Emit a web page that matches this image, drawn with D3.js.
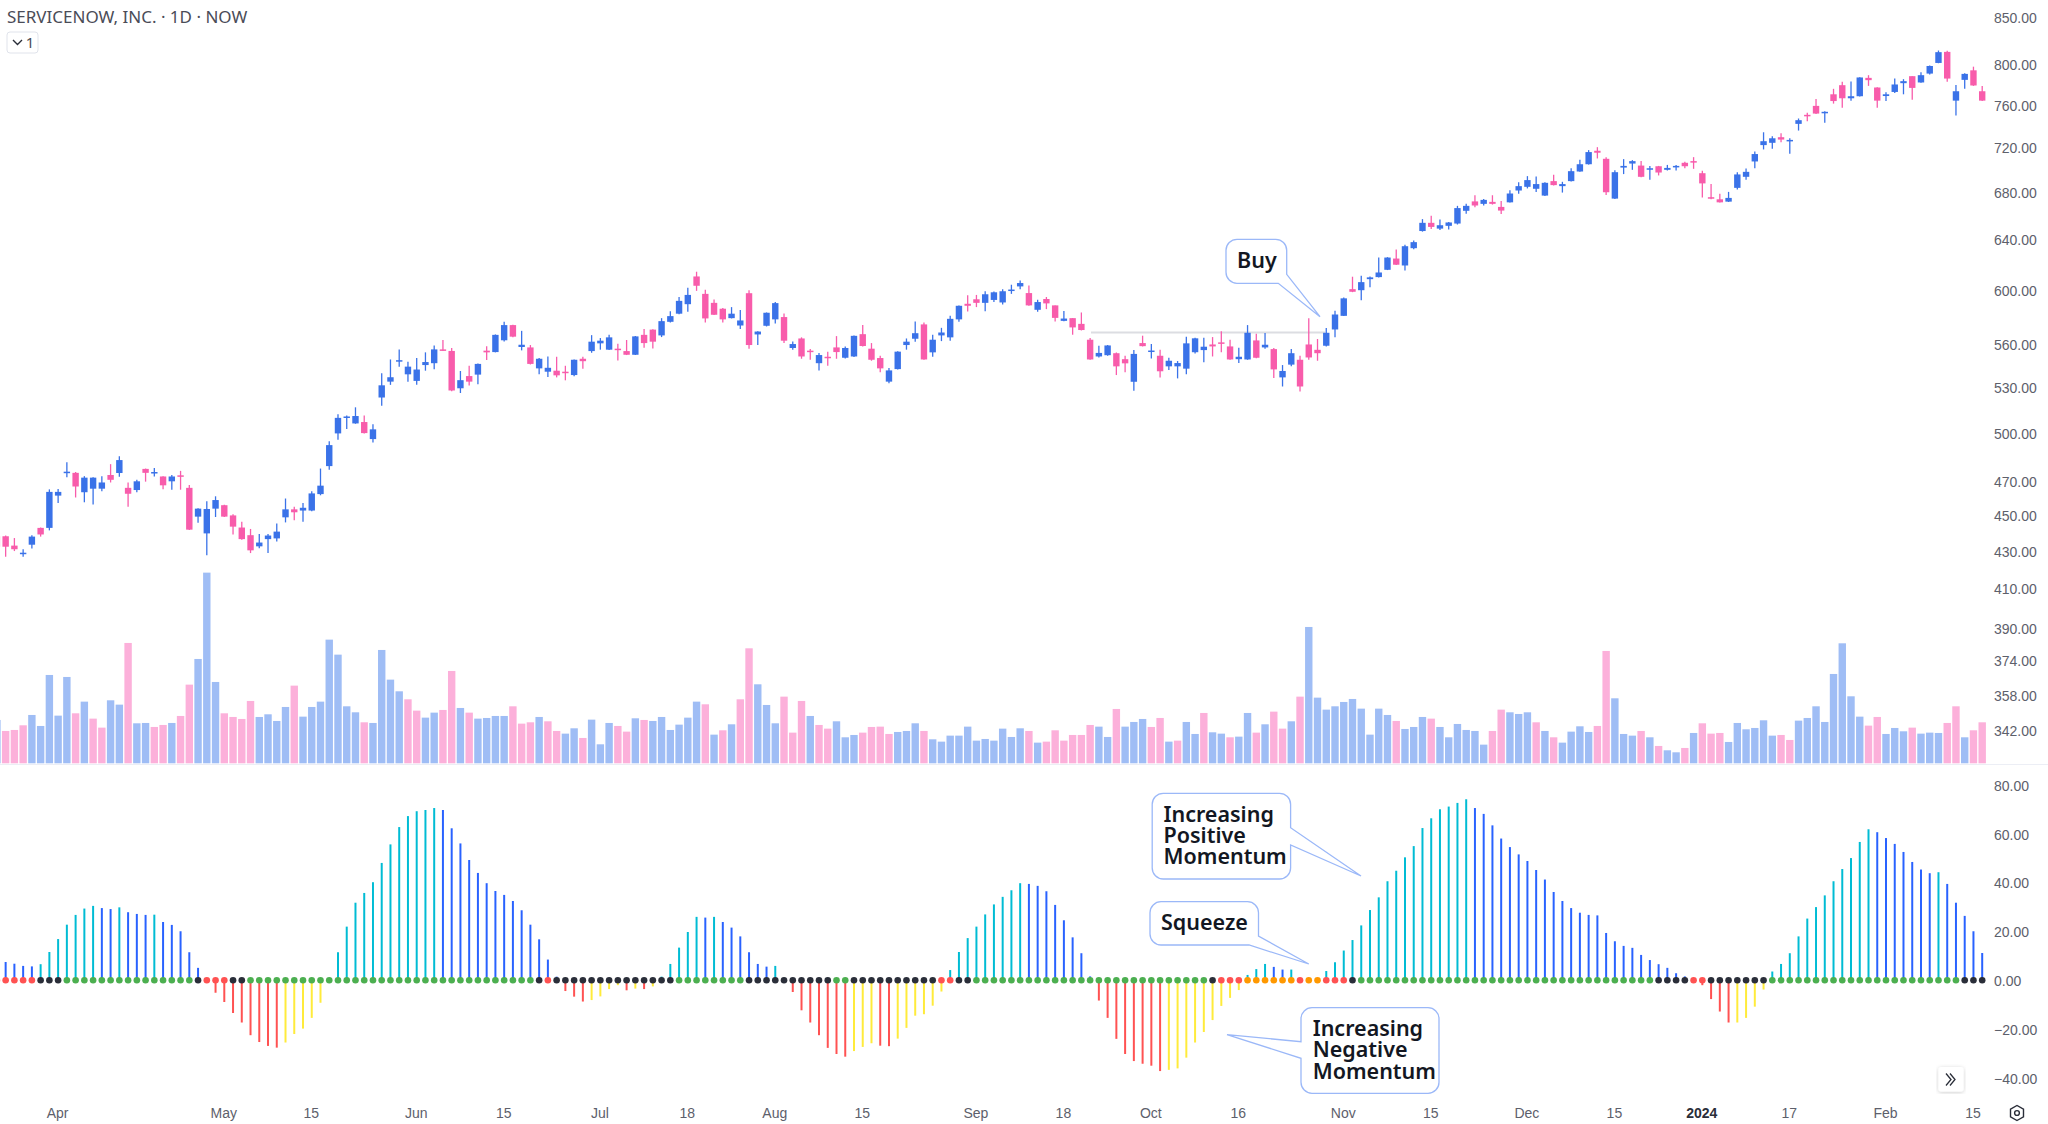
<!DOCTYPE html>
<html>
<head>
<meta charset="utf-8">
<title>ServiceNow squeeze momentum</title>
<script src="https://cdn.jsdelivr.net/npm/d3@7"></script>
<style>
html, body { margin: 0; padding: 0; background: #fff; }
svg { display: block; font-family: "Noto Sans", sans-serif; }
.axis text { fill: #5d606b; font-size: 14px; }
.axis path { display: none; }
.note text { fill: #131722; font-size: 21.5px; font-weight: 600; }
</style>
</head>
<body>
<svg id="chart" width="2048" height="1124"></svg>
<script>
// daily OHLC
let opens = [438.0,438.0,432.8,428.5,433.3,442.7,442.7,461.3,475.0,474.9,
463.3,465.4,465.4,473.6,474.8,465.9,464.6,477.3,474.8,472.7,
469.8,473.4,465.9,449.1,439.6,453.7,455.7,449.8,442.9,438.6,
432.4,436.4,436.8,448.7,453.3,452.6,452.6,462.2,479.0,499.4,
509.8,505.8,506.7,495.8,522.8,533.5,547.5,538.5,534.0,544.9,
546.2,555.9,554.8,529.0,537.3,538.3,555.0,554.0,562.4,573.4,
557.6,557.3,542.6,540.3,541.0,540.3,538.0,549.3,554.7,560.2,
555.7,556.4,554.7,552.1,566.3,570.1,565.9,575.8,581.8,588.9,
610.1,596.7,589.9,585.5,578.5,573.1,597.2,566.6,572.9,577.6,
579.3,556.9,563.7,555.0,546.2,550.7,557.3,550.0,550.9,566.8,
556.4,549.8,533.5,542.1,559.0,563.5,573.9,553.8,565.9,564.5,
577.6,589.2,592.6,589.9,592.1,590.2,599.5,602.4,597.3,584.7,
592.8,588.0,576.5,578.5,574.3,562.8,550.9,551.8,553.2,549.0,
533.4,560.4,554.4,551.4,544.0,544.0,542.4,553.9,555.4,559.4,
560.9,558.0,549.0,548.8,562.3,557.3,556.1,536.4,545.2,548.6,
559.4,555.6,558.5,570.2,580.2,600.3,599.5,608.0,609.6,615.3,
624.2,618.7,632.5,646.5,653.3,648.5,650.8,652.7,663.4,671.4,
669.3,671.0,666.7,670.6,680.8,684.0,682.3,676.4,689.0,684.6,
689.0,697.5,704.0,716.2,708.9,673.8,701.0,704.6,702.8,699.6,
702.2,699.0,701.3,705.3,706.8,696.0,675.0,673.2,671.2,683.1,
692.8,706.5,721.4,723.5,728.7,725.0,741.2,749.8,758.4,751.7,
769.7,778.7,765.8,767.8,786.0,776.4,768.0,772.0,780.7,787.7,
781.4,790.3,801.1,812.5,763.5,784.0,793.6,772.7];
let highs = [440.1,438.4,437.0,430.8,438.6,442.9,465.0,465.2,481.4,475.4,
472.9,472.2,472.9,480.2,485.0,469.1,470.7,477.5,477.9,472.9,
473.6,476.1,467.6,453.9,458.0,460.9,455.9,450.5,446.2,442.1,
439.2,439.2,445.2,459.6,454.8,457.0,463.9,477.5,494.4,511.7,
511.0,516.3,511.0,505.3,539.2,548.8,555.9,547.2,549.9,553.8,
558.7,562.6,556.9,540.8,544.4,545.9,558.2,566.6,575.9,573.7,
569.2,559.0,549.8,550.9,550.7,544.4,548.8,550.7,566.1,564.0,
566.3,559.9,562.6,565.4,570.6,570.4,578.5,583.7,594.4,601.3,
613.8,599.8,592.4,586.0,586.7,584.5,599.5,568.9,582.7,590.6,
582.0,561.6,564.5,556.2,553.3,554.3,565.4,558.0,565.9,573.4,
560.4,551.4,542.8,554.5,563.7,576.0,575.3,566.3,571.4,580.3,
587.9,595.6,595.9,598.7,598.5,600.3,603.7,607.0,603.1,592.3,
594.3,588.0,583.8,578.5,582.7,564.0,558.5,559.0,553.7,551.4,
555.4,565.7,559.7,555.6,550.0,547.7,565.0,564.2,564.2,564.7,
569.0,562.8,557.0,573.4,567.1,567.6,556.8,544.9,556.1,551.4,
578.5,563.3,571.2,584.0,594.0,609.9,610.7,610.1,625.0,625.3,
631.4,635.2,638.8,656.4,659.2,656.1,653.9,667.6,669.3,676.7,
673.5,676.7,671.8,681.1,688.1,693.4,693.1,688.1,694.6,688.4,
700.4,708.0,716.8,719.5,710.4,698.7,708.6,707.7,706.8,702.5,
702.5,703.4,703.4,706.2,710.4,698.1,686.4,677.9,679.6,696.9,
700.1,715.6,733.3,729.6,732.3,727.7,746.3,751.7,765.1,753.3,
775.1,782.0,782.4,786.7,788.7,776.7,771.7,785.3,784.7,787.7,
791.7,798.6,813.9,813.6,779.0,790.7,797.3,778.0];
let lows = [429.8,426.7,429.8,426.7,431.2,437.8,441.3,457.0,472.2,460.2,
457.4,456.1,463.9,469.1,472.5,454.8,463.3,469.6,472.7,465.0,
464.8,464.8,441.5,445.6,427.5,448.9,448.9,439.0,436.1,428.7,
431.4,428.7,435.1,445.8,447.1,446.2,452.2,461.5,476.8,495.3,
502.2,505.6,499.4,493.6,517.3,531.3,543.8,533.5,531.3,541.0,
542.0,555.0,527.0,525.8,530.8,531.8,548.5,553.8,561.6,564.5,
555.2,545.3,538.5,536.7,536.4,534.4,537.1,542.3,553.5,555.7,
555.4,548.1,551.9,551.9,557.1,556.6,564.7,575.3,581.3,583.2,
599.0,575.3,580.8,575.3,578.3,570.6,556.4,559.0,572.4,574.6,
560.4,555.7,549.3,548.6,541.2,544.4,549.3,549.5,550.5,558.0,
547.9,540.0,532.4,541.9,555.7,561.4,548.6,550.7,561.8,562.1,
575.8,583.5,586.7,583.7,590.6,588.7,596.7,600.3,587.7,583.2,
585.2,576.0,576.2,566.4,569.5,548.6,550.2,551.4,538.0,539.9,
527.4,558.0,549.5,536.4,541.5,535.7,538.5,553.0,546.8,550.9,
553.9,548.6,546.3,548.6,549.7,556.3,535.9,530.2,544.0,526.8,
548.6,547.9,558.0,564.5,580.0,598.0,591.8,601.8,609.3,615.1,
619.0,614.8,631.7,646.0,648.2,647.4,647.7,651.9,660.9,666.5,
667.9,668.7,660.8,670.4,677.9,682.6,679.6,676.1,685.2,679.0,
688.7,697.2,703.7,709.2,676.9,673.5,695.2,699.0,692.5,690.2,
694.0,698.4,698.4,700.4,699.9,674.7,673.2,670.4,670.9,681.7,
690.2,700.4,717.4,718.0,724.1,713.4,734.9,743.7,750.7,742.2,
760.6,756.5,763.5,767.5,778.0,756.5,763.1,771.0,769.7,764.4,
781.0,789.3,800.8,782.0,749.2,775.1,778.0,763.1];
let closes = [432.2,432.2,430.8,428.9,437.8,439.0,463.5,463.5,475.6,466.7,
472.0,472.0,469.1,470.7,482.7,462.4,469.8,474.9,475.4,467.4,
472.7,472.5,441.7,453.7,453.5,458.7,449.1,443.4,436.4,430.2,
434.5,438.4,440.6,453.3,451.6,454.2,462.6,467.2,492.0,509.4,
510.3,510.6,499.6,502.0,531.0,536.5,548.3,543.8,541.8,547.0,
555.9,555.3,527.5,534.5,533.5,545.7,553.8,566.3,573.4,565.0,
559.2,545.7,549.3,543.0,537.8,539.4,548.6,547.6,561.4,562.1,
564.5,555.4,552.1,565.2,560.4,561.4,576.3,580.0,591.4,595.9,
602.9,578.3,581.0,577.6,581.8,576.8,559.0,568.7,582.5,589.7,
562.1,559.7,550.9,554.5,551.9,549.8,554.0,556.9,565.6,558.3,
548.6,542.6,541.2,554.3,561.4,567.5,548.8,562.8,568.0,578.0,
587.7,587.7,589.9,596.4,597.9,598.7,600.0,605.0,588.0,590.5,
589.5,578.7,578.2,571.7,569.8,548.8,553.4,558.7,544.0,546.1,
552.7,558.2,555.1,540.6,547.9,546.3,560.2,563.8,557.8,558.0,
560.2,548.8,550.7,567.8,550.0,559.2,541.9,540.8,553.2,530.2,
550.2,553.2,567.8,581.2,593.3,598.3,605.7,609.4,613.2,625.0,
619.3,634.1,637.4,653.3,649.9,651.3,653.6,665.7,667.6,667.9,
672.7,669.3,663.6,678.2,684.6,689.9,686.4,687.5,685.5,686.4,
697.8,704.0,715.0,714.4,679.3,696.9,702.5,706.8,692.8,700.4,
696.6,700.7,702.5,702.2,705.9,687.0,674.1,670.6,674.4,694.9,
697.2,713.2,725.0,727.7,726.5,726.2,744.7,748.8,751.0,752.7,
763.1,765.8,767.8,786.4,783.7,763.5,769.7,779.4,782.7,776.0,
788.7,798.0,812.2,785.3,772.7,790.0,778.4,763.5];

// volume in relative units, no scale on the chart
let volumes = [130,97,100,114,145,112,265,143,259,150,185,134,107,189,176,361,120,121,109,115,
121,142,236,313,572,244,150,139,133,187,139,147,127,169,233,140,169,185,371,326,
171,153,123,121,340,251,216,192,158,137,152,160,277,166,152,134,136,142,142,171,
119,123,139,126,97,89,105,76,131,57,121,112,95,135,130,127,139,100,116,
137,185,177,86,99,117,192,345,237,175,120,200,92,187,142,115,104,126,78,85,
92,109,110,88,94,97,120,97,72,65,83,83,110,68,73,68,104,79,105,97,
62,65,99,68,85,85,115,110,79,163,110,124,133,109,136,65,68,124,88,151,
93,89,78,80,151,92,117,155,104,126,200,409,197,161,171,184,193,164,
86,164,145,127,103,109,139,134,109,78,118,100,97,56,97,161,153,148,153,123,
97,78,62,95,111,94,112,337,195,88,83,97,78,52,39,33,46,91,120,89,
91,64,121,102,106,129,83,85,70,128,136,171,124,268,360,201,140,113,139,88,
106,96,107,89,92,91,121,171,78,99,123];
let volumeDownBars = [1,2,3,9,11,12,15,18,19,21,22,26,27,28,29,34,42,47,48,51,52,54,59,60,61,63,64,67,71,72,74,
81,83,85,86,90,91,92,94,95,99,100,101,102,106,118,120,121,122,123,124,125,128,132,133,135,138,141,144,146,147,149,
160,164,171,172,176,178,183,184,188,190,193,195,196,197,204,205,214,215,219,223,224,226,227];

// squeeze momentum histogram
let momentum = [8,7.5,6.8,5.9,5.7,6.6,11.6,16.9,22.8,26.8,29.4,30.5,29.6,29.2,29.9,27.9,27.2,26.8,26.9,23.9,
22.7,20.1,11.5,5.1,-0.2,-5.1,-8.9,-13.4,-17.3,-22.5,-25.3,-26.9,-27.6,-25.5,-22,-19.8,-15.4,-9.2,0.4,11.5,
22,31.8,35.8,40.2,48.1,55.7,62.8,67.3,69.3,69.8,70.6,69.8,62.3,56.1,49.3,44,39.8,36.6,35,32.5,
28.7,22.8,16.8,8.5,1.5,-4.4,-6.7,-8.7,-8.1,-6.6,-3.6,-2,-4.1,-3.4,-3.6,-2.5,1.5,6.7,13.4,19.8,
26,25.7,26,23.9,21.6,18,11.5,6.7,5.6,5.9,0.3,-4.8,-12.3,-17.3,-22.5,-27.7,-30.2,-31.3,-29,-27.3,
-25.8,-26.8,-27,-23.9,-19.5,-14.5,-13.9,-10.4,-4.6,4.2,11.6,17.3,22,27,31.1,34.2,36.9,39.8,39.5,38.7,
36.5,30.9,24.6,17.6,11.1,1.6,-8.3,-15.4,-24,-30.2,-33.1,-34.2,-35,-37.2,-36.7,-36.1,-31.7,-25.5,-21.2,-16.3,
-10.5,-7.2,-4,2.2,4.6,6.7,5.5,4.4,4.4,0.2,0.2,0.2,3.8,7.4,12.2,16.5,22.5,28.8,34,40.6,
44.9,50.4,55,62.4,66.4,70.1,71.2,72.7,74.2,70.6,68.2,63.5,58.1,54.6,51.6,48.9,45.2,41.3,36.2,32.5,
29.6,27.7,26.8,26.6,19.4,16,14.1,13.3,10.4,8.3,6.6,5.1,2.9,1.6,0.2,-2,-7.7,-12.8,-17.3,-17.3,
-15.4,-10.8,-3.8,3.6,6.7,11.1,18,25.3,30,34.8,40.6,45.6,50.1,56.7,61.9,60.7,58.3,55.9,52.6,48.5,
45.4,43.9,44.3,39.5,31.8,26.4,20.1,11.2];
// squeeze state dots as [state, number of bars]
let squeezeRuns = [["r",5],["k",3],["g",15],["k",1],["r",3],["k",2],["g",33],["k",1],["r",1],["k",14],
["g",8],["k",10],["g",2],["k",10],["r",2],["k",2],["g",27],["k",1],["r",3],["o",6],["r",1],["o",2],
["r",3],["k",1],["g",34],["k",4],["r",2],["k",7],["g",22],["k",3]];

let priceTicks = [850,800,760,720,680,640,600,560,530,500,470,450,430,410,390,374,358,342];
let momentumTicks = [80,60,40,20,0,-20,-40];
let timeTickBars = [7,26,36,48,58,69,79,89,99,112,122,132,142,154,164,175,185,195,205,216,226];
let timeTickLabels = ["Apr","May","15","Jun","15","Jul","18","Aug","15","Sep","18","Oct","16","Nov","15","Dec","15","2024","17","Feb","15"];
let pivotPrice = 568;

let stateColor = {"r": "#ff5252", "k": "#2a2e39", "g": "#4caf50", "o": "#ff9800"};
let upColor = "#3a72e8", downColor = "#f85cab";

let squeeze = squeezeRuns.flatMap(d => d3.range(d[1]).map(() => d[0]));
let bars = d3.range(opens.length);

let svg = d3.select("#chart");

let x = d3.scaleLinear().domain([0, 227]).range([-3.1, 1982.2]);
let yPrice = d3.scaleLog().domain([850, 342]).range([16.5, 730.2]);
let yVolume = d3.scaleLinear().domain([0, 600]).range([763.3, 563.3]);
let yMomentum = d3.scaleLinear().domain([80, -40]).range([785.1, 1077.9]);

// volume
svg.append("line")
    .attr("x1", 0).attr("x2", 2048)
    .attr("y1", 764.5).attr("y2", 764.5)
    .attr("stroke", "#eceef5");
svg.append("g").selectAll("rect").data(bars).join("rect")
    .attr("x", d => x(d) - 3.7)
    .attr("width", 7.4)
    .attr("y", d => yVolume(volumes[d]))
    .attr("height", d => yVolume(0) - yVolume(volumes[d]))
    .attr("fill", d => volumeDownBars.includes(d) ? "#fcb0da" : "#9fbdf5");

// resistance line behind the candles
svg.append("line")
    .attr("x1", 1091).attr("x2", 1325)
    .attr("y1", yPrice(pivotPrice)).attr("y2", yPrice(pivotPrice))
    .attr("stroke", "#dcdde2").attr("stroke-width", 2);

// candles
let candleColor = d => closes[d] >= opens[d] ? upColor : downColor;
let candles = svg.append("g");
candles.selectAll("line").data(bars).join("line")
    .attr("x1", d => x(d)).attr("x2", d => x(d))
    .attr("y1", d => yPrice(highs[d])).attr("y2", d => yPrice(lows[d]))
    .attr("stroke", candleColor).attr("stroke-width", 1.3);
candles.selectAll("rect").data(bars).join("rect")
    .attr("x", d => x(d) - 3.2)
    .attr("width", 6.4)
    .attr("y", d => yPrice(Math.max(opens[d], closes[d])))
    .attr("height", d => Math.max(1.5, yPrice(Math.min(opens[d], closes[d])) - yPrice(Math.max(opens[d], closes[d]))))
    .attr("fill", candleColor);

// momentum histogram, colour from the bar to bar change
function momentumColor(d) {
    let v = momentum[d], prev = d > 0 ? momentum[d - 1] : v + 1;
    if (v >= 0) return v >= prev ? "#00bcd4" : "#2962ff";
    return v < prev ? "#ff5252" : "#ffeb3b";
}
svg.append("g").selectAll("line").data(bars).join("line")
    .attr("x1", d => x(d)).attr("x2", d => x(d))
    .attr("y1", yMomentum(0))
    .attr("y2", d => yMomentum(momentum[d]))
    .attr("stroke", momentumColor).attr("stroke-width", 2);
svg.append("g").selectAll("circle").data(bars).join("circle")
    .attr("cx", d => x(d))
    .attr("cy", yMomentum(0))
    .attr("r", 3.3)
    .attr("fill", d => stateColor[squeeze[d]]);

// axes
svg.append("g").attr("class", "axis")
    .attr("transform", "translate(1994,1.3)")
    .call(d3.axisRight(yPrice).tickValues(priceTicks).tickSize(0).tickPadding(0).tickFormat(d3.format(".2f")));
svg.append("g").attr("class", "axis")
    .attr("transform", "translate(1994,0.7)")
    .call(d3.axisRight(yMomentum).tickValues(momentumTicks).tickSize(0).tickPadding(0).tickFormat(d3.format(".2f")));
let timeAxis = svg.append("g").attr("class", "axis")
    .attr("transform", "translate(-1,1108.3)")
    .call(d3.axisBottom(x).tickValues(timeTickBars).tickSize(0).tickPadding(0)
        .tickFormat((d, i) => timeTickLabels[i]));
timeAxis.selectAll("text")
    .attr("font-weight", d => d === 195 ? 700 : 400)
    .style("fill", d => d === 195 ? "#2a2e39" : null);

// callouts
function roundedShape(points) {
    let p = d3.path();
    let n = points.length;
    p.moveTo((points[n - 1][0] + points[0][0]) / 2, (points[n - 1][1] + points[0][1]) / 2);
    points.forEach((pt, i) => {
        let next = points[(i + 1) % n];
        if (pt[2] === 0) p.lineTo(pt[0], pt[1]);
        else p.arcTo(pt[0], pt[1], next[0], next[1], 11);
    });
    p.closePath();
    return p.toString();
}
function callout(points, lines, textX, firstY) {
    let g = svg.append("g").attr("class", "note");
    g.append("path")
        .attr("d", roundedShape(points))
        .attr("fill", "#fff").attr("stroke", "#9bb8f8").attr("stroke-width", 1.3);
    let label = g.append("text").attr("y", firstY);
    lines.forEach((t, i) => {
        label.append("tspan")
            .attr("x", textX)
            .attr("y", firstY + i * 21.3)
            .attr("dy", "0.36em")
            .text(t);
    });
}
callout([[1226,239.3],[1286.7,239.3],[1286.7,274.3,0],[1320,316.7,0],[1278.3,283.3,0],[1226,283.3]], ["Buy"], 1237, 260);
callout([[1152.2,793.3],[1290.6,793.3],[1290.6,827.7,0],[1361,876,0],[1290.6,845,0],[1290.6,879],[1152.2,879]],
    ["Increasing", "Positive", "Momentum"], 1163.5, 814);
callout([[1150,901.7],[1258.5,901.7],[1258.5,936,0],[1308.8,964,0],[1249,945,0],[1150,945]], ["Squeeze"], 1161, 922.7);
callout([[1301,1007.7],[1439,1007.7],[1439,1093.3],[1301,1093.3],[1301,1058.3,0],[1227,1034.7,0],[1301,1041.7,0]],
    ["Increasing", "Negative", "Momentum"], 1312.7, 1028.3);

// header
svg.append("text")
    .attr("x", 7).attr("y", 16.5).attr("dy", "0.36em")
    .attr("fill", "#4a4c57").attr("font-size", 17)
    .text("SERVICENOW, INC. · 1D · NOW");
svg.append("rect")
    .attr("x", 7).attr("y", 32).attr("width", 31).attr("height", 21).attr("rx", 3)
    .attr("fill", "#fff").attr("stroke", "#e0e3eb");
svg.append("path")
    .attr("d", "M13 40 L17.5 44.5 L22 40")
    .attr("fill", "none").attr("stroke", "#2a2e39").attr("stroke-width", 1.4);
svg.append("text")
    .attr("x", 30).attr("y", 42.5).attr("dy", "0.36em").attr("text-anchor", "middle")
    .attr("fill", "#4a4c57").attr("font-size", 15).text("1");

// scroll button and settings icon
svg.append("defs").append("filter").attr("id", "btnShadow")
    .append("feDropShadow")
    .attr("dx", 0).attr("dy", 1).attr("stdDeviation", 2).attr("flood-color", "#000").attr("flood-opacity", 0.2);
svg.append("rect")
    .attr("x", 1938.5).attr("y", 1067).attr("width", 25).attr("height", 24.5).attr("rx", 3)
    .attr("fill", "#fff").attr("filter", "url(#btnShadow)");
svg.append("path")
    .attr("d", "M1946 1073.5 L1951 1079.5 L1946 1085.5 M1950 1073.5 L1955 1079.5 L1950 1085.5")
    .attr("fill", "none").attr("stroke", "#2a2e39").attr("stroke-width", 1.3);
let hexagon = d3.range(6).map(i => {
    let a = Math.PI / 3 * i;
    return [2017 + 7.5 * Math.sin(a), 1113 + 7.5 * Math.cos(a)];
});
svg.append("path")
    .attr("d", d3.line().curve(d3.curveLinearClosed)(hexagon))
    .attr("fill", "none").attr("stroke", "#2a2e39").attr("stroke-width", 1.4);
svg.append("circle")
    .attr("cx", 2017).attr("cy", 1113).attr("r", 2.4)
    .attr("fill", "none").attr("stroke", "#2a2e39").attr("stroke-width", 1.4);
</script>
</body>
</html>
